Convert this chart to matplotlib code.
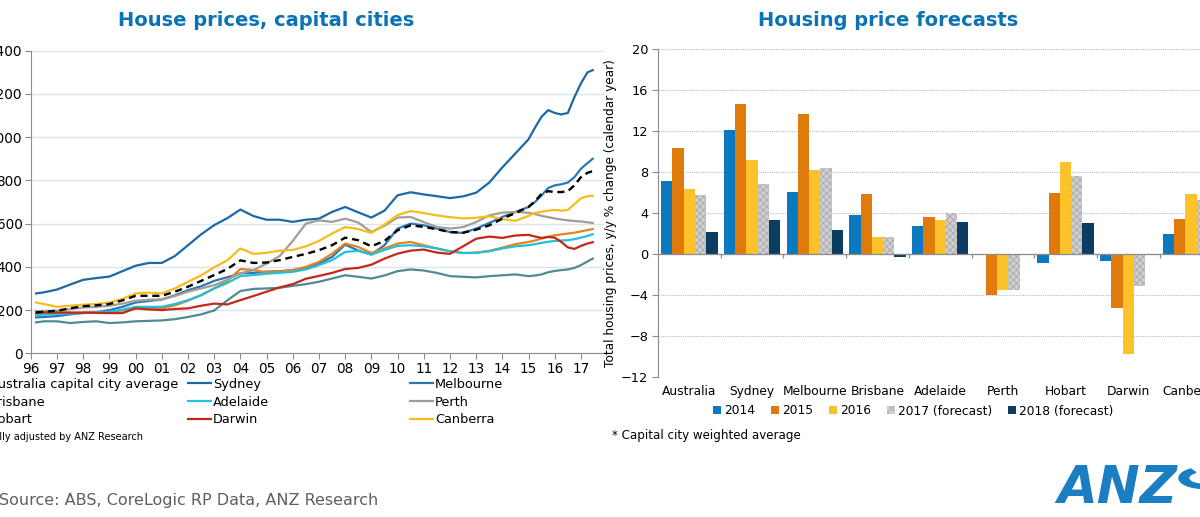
import matplotlib.pyplot as plt
from matplotlib.lines import Line2D
from matplotlib.patches import Patch, Wedge
import numpy as np

# ---------------- left chart data (house prices, $'000) ----------------
years = [1996.2, 1996.5, 1997.0, 1997.5, 1998.0, 1998.5, 1999.0, 1999.5, 2000.0, 2000.5,
         2001.0, 2001.5, 2002.0, 2002.5, 2003.0, 2003.5, 2004.0, 2004.5, 2005.0, 2005.5,
         2006.0, 2006.5, 2007.0, 2007.5, 2008.0, 2008.5, 2009.0, 2009.5, 2010.0, 2010.5,
         2011.0, 2011.5, 2012.0, 2012.5, 2013.0, 2013.5, 2014.0, 2014.5, 2015.0,
         2015.25, 2015.5, 2015.75, 2016.0, 2016.25, 2016.5, 2016.75, 2017.0, 2017.25, 2017.45]

sydney = [277, 282, 295, 318, 340, 348, 355, 380, 405, 418, 418, 450, 500, 550, 593, 625, 665, 635, 618, 618,
          608, 618, 623, 654, 677, 652, 628, 660, 731, 745, 735, 727, 718, 726, 743, 790, 860, 925, 990,
          1045, 1095, 1125, 1112, 1105, 1112, 1185, 1249, 1300, 1310]
melbourne = [166, 168, 172, 180, 187, 190, 200, 215, 235, 242, 249, 268, 292, 310, 335, 352, 370, 372, 378, 380,
             385, 395, 415, 446, 503, 475, 457, 500, 577, 600, 592, 577, 561, 557, 577, 603, 631, 654, 677,
             700, 731, 765, 777, 782, 790, 815, 854, 880, 900]
australia = [189, 192, 197, 208, 218, 222, 228, 245, 266, 266, 266, 285, 308, 335, 362, 390, 430, 418, 420, 431,
             446, 460, 477, 500, 535, 523, 495, 520, 569, 592, 585, 574, 561, 558, 572, 592, 623, 649, 677,
             705, 738, 750, 746, 746, 750, 777, 815, 835, 843]
canberra = [235, 228, 215, 220, 225, 228, 235, 252, 277, 281, 277, 300, 331, 360, 398, 430, 485, 460, 465, 475,
            478, 495, 520, 554, 584, 575, 557, 595, 640, 658, 649, 638, 630, 624, 627, 634, 621, 613, 636,
            650, 655, 660, 663, 660, 663, 690, 717, 727, 729]
perth = [195, 196, 197, 205, 212, 215, 220, 230, 243, 248, 249, 265, 285, 300, 315, 340, 370, 385, 415, 450,
         520, 600, 615, 608, 623, 605, 561, 590, 628, 631, 607, 584, 577, 584, 607, 638, 651, 654, 650,
         644, 636, 630, 624, 619, 615, 612, 610, 606, 603]
brisbane = [185, 186, 188, 188, 188, 189, 190, 198, 208, 208, 208, 222, 243, 270, 300, 335, 390, 385, 375, 378,
            385, 400, 423, 461, 508, 492, 464, 485, 508, 515, 500, 485, 472, 464, 466, 474, 489, 505, 515,
            522, 531, 540, 546, 550, 554, 558, 564, 570, 575]
adelaide = [177, 179, 181, 184, 186, 189, 192, 202, 215, 215, 215, 228, 246, 268, 300, 325, 357, 362, 368, 372,
            377, 388, 408, 431, 469, 474, 457, 478, 497, 500, 495, 485, 472, 464, 464, 472, 485, 495, 500,
            505, 511, 516, 520, 522, 523, 528, 535, 543, 551]
darwin = [188, 189, 189, 188, 188, 187, 186, 186, 208, 203, 200, 205, 208, 220, 230, 226, 246, 265, 285, 305,
          320, 345, 358, 372, 390, 395, 410, 438, 461, 475, 480, 466, 460, 495, 530, 540, 534, 545, 548,
          540, 534, 538, 535, 515, 490, 483, 497, 508, 514]
hobart = [143, 148, 148, 140, 145, 148, 140, 143, 148, 150, 152, 158, 168, 180, 198, 245, 288, 298, 300, 303,
          312, 320, 331, 346, 361, 354, 346, 360, 380, 388, 383, 372, 357, 354, 351, 357, 361, 365, 357,
          360, 365, 375, 381, 385, 388, 395, 408, 425, 438]

# ---------------- right chart data (y/y % change) ----------------
cities = ['Australia', 'Sydney', 'Melbourne', 'Brisbane', 'Adelaide', 'Perth', 'Hobart', 'Darwin', 'Canberra']
f2014 = [7.1, 12.1, 6.1, 3.8, 2.7, -0.1, -0.9, -0.65, 1.95]
f2015 = [10.4, 14.7, 13.65, 5.85, 3.6, -4.0, 5.95, -5.3, 3.45]
f2016 = [6.3, 9.2, 8.25, 1.65, 3.35, -3.5, 9.0, -9.75, 5.85]
f2017 = [5.8, 6.8, 8.4, 1.65, 4.0, -3.5, 7.6, -3.1, 5.25]
f2018 = [2.15, 3.35, 2.3, -0.3, 3.1, 0.0, 3.0, 0.0, 2.5]

blue_title = '#0b72b5'
grey_axis = '#8c8c8c'

fig = plt.figure(figsize=(12, 5.17), dpi=100)

def px(x, y):
    # pixel position (from top-left) -> figure fraction
    return x / 1200, 1 - y / 517

#########################################   House prices   ####################################
ax1 = fig.add_axes([30.8 / 1200, 1 - 353.3 / 517, (604 - 30.8) / 1200, (353.3 - 50.7) / 517])

line_styles = [
    ('Sydney', sydney, '#1c69a6', '-'),
    ('Melbourne', melbourne, '#2a79b6', '-'),
    ('Brisbane', brisbane, '#e8821e', '-'),
    ('Adelaide', adelaide, '#22c0db', '-'),
    ('Perth', perth, '#a39d95', '-'),
    ('Hobart', hobart, '#4f8b91', '-'),
    ('Darwin', darwin, '#c3281c', '-'),
    ('Canberra', canberra, '#f6bd1a', '-'),
]
for name, vals, col, ls in line_styles:
    ax1.plot(years, vals, color=col, lw=1.6, ls=ls, label=name)
ax1.plot(years, australia, color='black', lw=1.7, ls=(0, (3, 2)), label='Australia capital city average')

ax1.set_xlim(1996, 2017.88)
ax1.set_ylim(0, 1400)
ax1.set_xticks(range(1996, 2018))
ax1.set_xticklabels([f'{y % 100:02d}' for y in range(1996, 2018)])
ax1.set_yticks(range(0, 1401, 200))
ax1.yaxis.grid(True, color='#dde4ea', lw=1)
ax1.set_axisbelow(True)
for s in ['top', 'right']:
    ax1.spines[s].set_visible(False)
for s in ['left', 'bottom']:
    ax1.spines[s].set_color(grey_axis)
ax1.tick_params(axis='both', colors=grey_axis, labelcolor='black', labelsize=9.8, length=4, pad=2)

# legend, drawn as three columns like the original
handles = {n: Line2D([], [], color=c, lw=1.6) for n, _, c, _ in line_styles}
handles['Australia capital city average'] = Line2D([], [], color='black', lw=1.7, ls=(0, (3, 2)))
cols = [
    (['Australia capital city average', 'Brisbane', 'Hobart'], 'upper right', px(178, 378)),
    (['Sydney', 'Adelaide', 'Darwin'], 'upper left', px(188, 378)),
    (['Melbourne', 'Perth', 'Canberra'], 'upper left', px(410, 378)),
]
for labels, loc, anchor in cols:
    fig.legend([handles[l] for l in labels], labels, loc=loc, bbox_to_anchor=anchor,
               frameon=False, fontsize=9.3, handlelength=1.8, handletextpad=0.15,
               labelspacing=0.35, borderpad=0, borderaxespad=0)

fig.text(*px(143, 437), 'Seasonally adjusted by ANZ Research', fontsize=7, ha='right', va='center')
fig.text(*px(378, 500), 'Source: ABS, CoreLogic RP Data, ANZ Research', fontsize=11.5,
         color='#5f5f5f', ha='right', va='center')
fig.text(*px(266, 20), 'House prices, capital cities', fontsize=14, fontweight='bold',
         color=blue_title, ha='center', va='center')

#########################################   Forecasts   ####################################
ax2 = fig.add_axes([658 / 1200, 1 - 376.7 / 517, (9 * 62.7) / 1200, (376.7 - 49.3) / 517])

series = [('2014', f2014, '#0b79bf', None),
          ('2015', f2015, '#e07b0b', None),
          ('2016', f2016, '#fdc12a', None),
          ('2017 (forecast)', f2017, '#cfcfcf', 'xxxxx'),
          ('2018 (forecast)', f2018, '#0b3c61', None)]
x = np.arange(len(cities))
w = 0.18
plt.rcParams['hatch.linewidth'] = 0.6
legend_patches = []
for i, (name, vals, col, hatch) in enumerate(series):
    offs = (i - 2) * w
    if hatch:
        ax2.bar(x + offs, vals, w, color=col, hatch=hatch, edgecolor='#a8a8a8', lw=0)
        legend_patches.append(Patch(facecolor=col, hatch='xxxx', edgecolor='#a8a8a8', lw=0, label=name))
    else:
        ax2.bar(x + offs, vals, w, color=col, lw=0)
        legend_patches.append(Patch(facecolor=col, lw=0, label=name))

ax2.set_xlim(-0.5, len(cities) - 0.5)
ax2.set_ylim(-12, 20)
ax2.set_yticks(range(-12, 21, 4))
ax2.yaxis.grid(True, color='#bdbdbd', lw=0.8, ls=(0, (1, 1)))
ax2.set_axisbelow(True)
ax2.set_xticks(x)
ax2.set_xticklabels(cities)
ax2.tick_params(axis='x', length=0, labelsize=8.8, pad=6)
ax2.tick_params(axis='y', colors=grey_axis, labelcolor='black', labelsize=9.3, length=4, pad=3)
for s in ['top', 'right', 'bottom']:
    ax2.spines[s].set_visible(False)
ax2.spines['left'].set_color(grey_axis)
ax2.axhline(0, color=grey_axis, lw=0.9)
ax2.vlines(x[:-1] + 0.5, -0.35, 0, color=grey_axis, lw=0.9)
ax2.set_ylabel('Total housing prices, y/y % change (calendar year)', fontsize=8.7, labelpad=3)

fig.legend(handles=legend_patches, loc='center', bbox_to_anchor=px(913, 411), ncol=5,
           frameon=False, fontsize=8.8, handlelength=0.65, handleheight=0.65,
           handletextpad=0.25, columnspacing=1.3, borderpad=0)

fig.text(*px(612, 436), '* Capital city weighted average', fontsize=8.6, ha='left', va='center')
fig.text(*px(888, 20), 'Housing price forecasts', fontsize=14, fontweight='bold',
         color=blue_title, ha='center', va='center')

# ANZ logo text (cut at right edge like the original)
fig.text(*px(1057, 503), 'ANZ', fontsize=37, fontweight='bold', fontstyle='italic',
         color='#1b7ec2', ha='left', va='baseline')
fig.patches.append(Wedge(px(1203, 478), 0.02, 120, 300, width=0.008, color='#1b7ec2',
                         transform=fig.transFigure))

plt.savefig('out.png', dpi=100)
plt.close()
